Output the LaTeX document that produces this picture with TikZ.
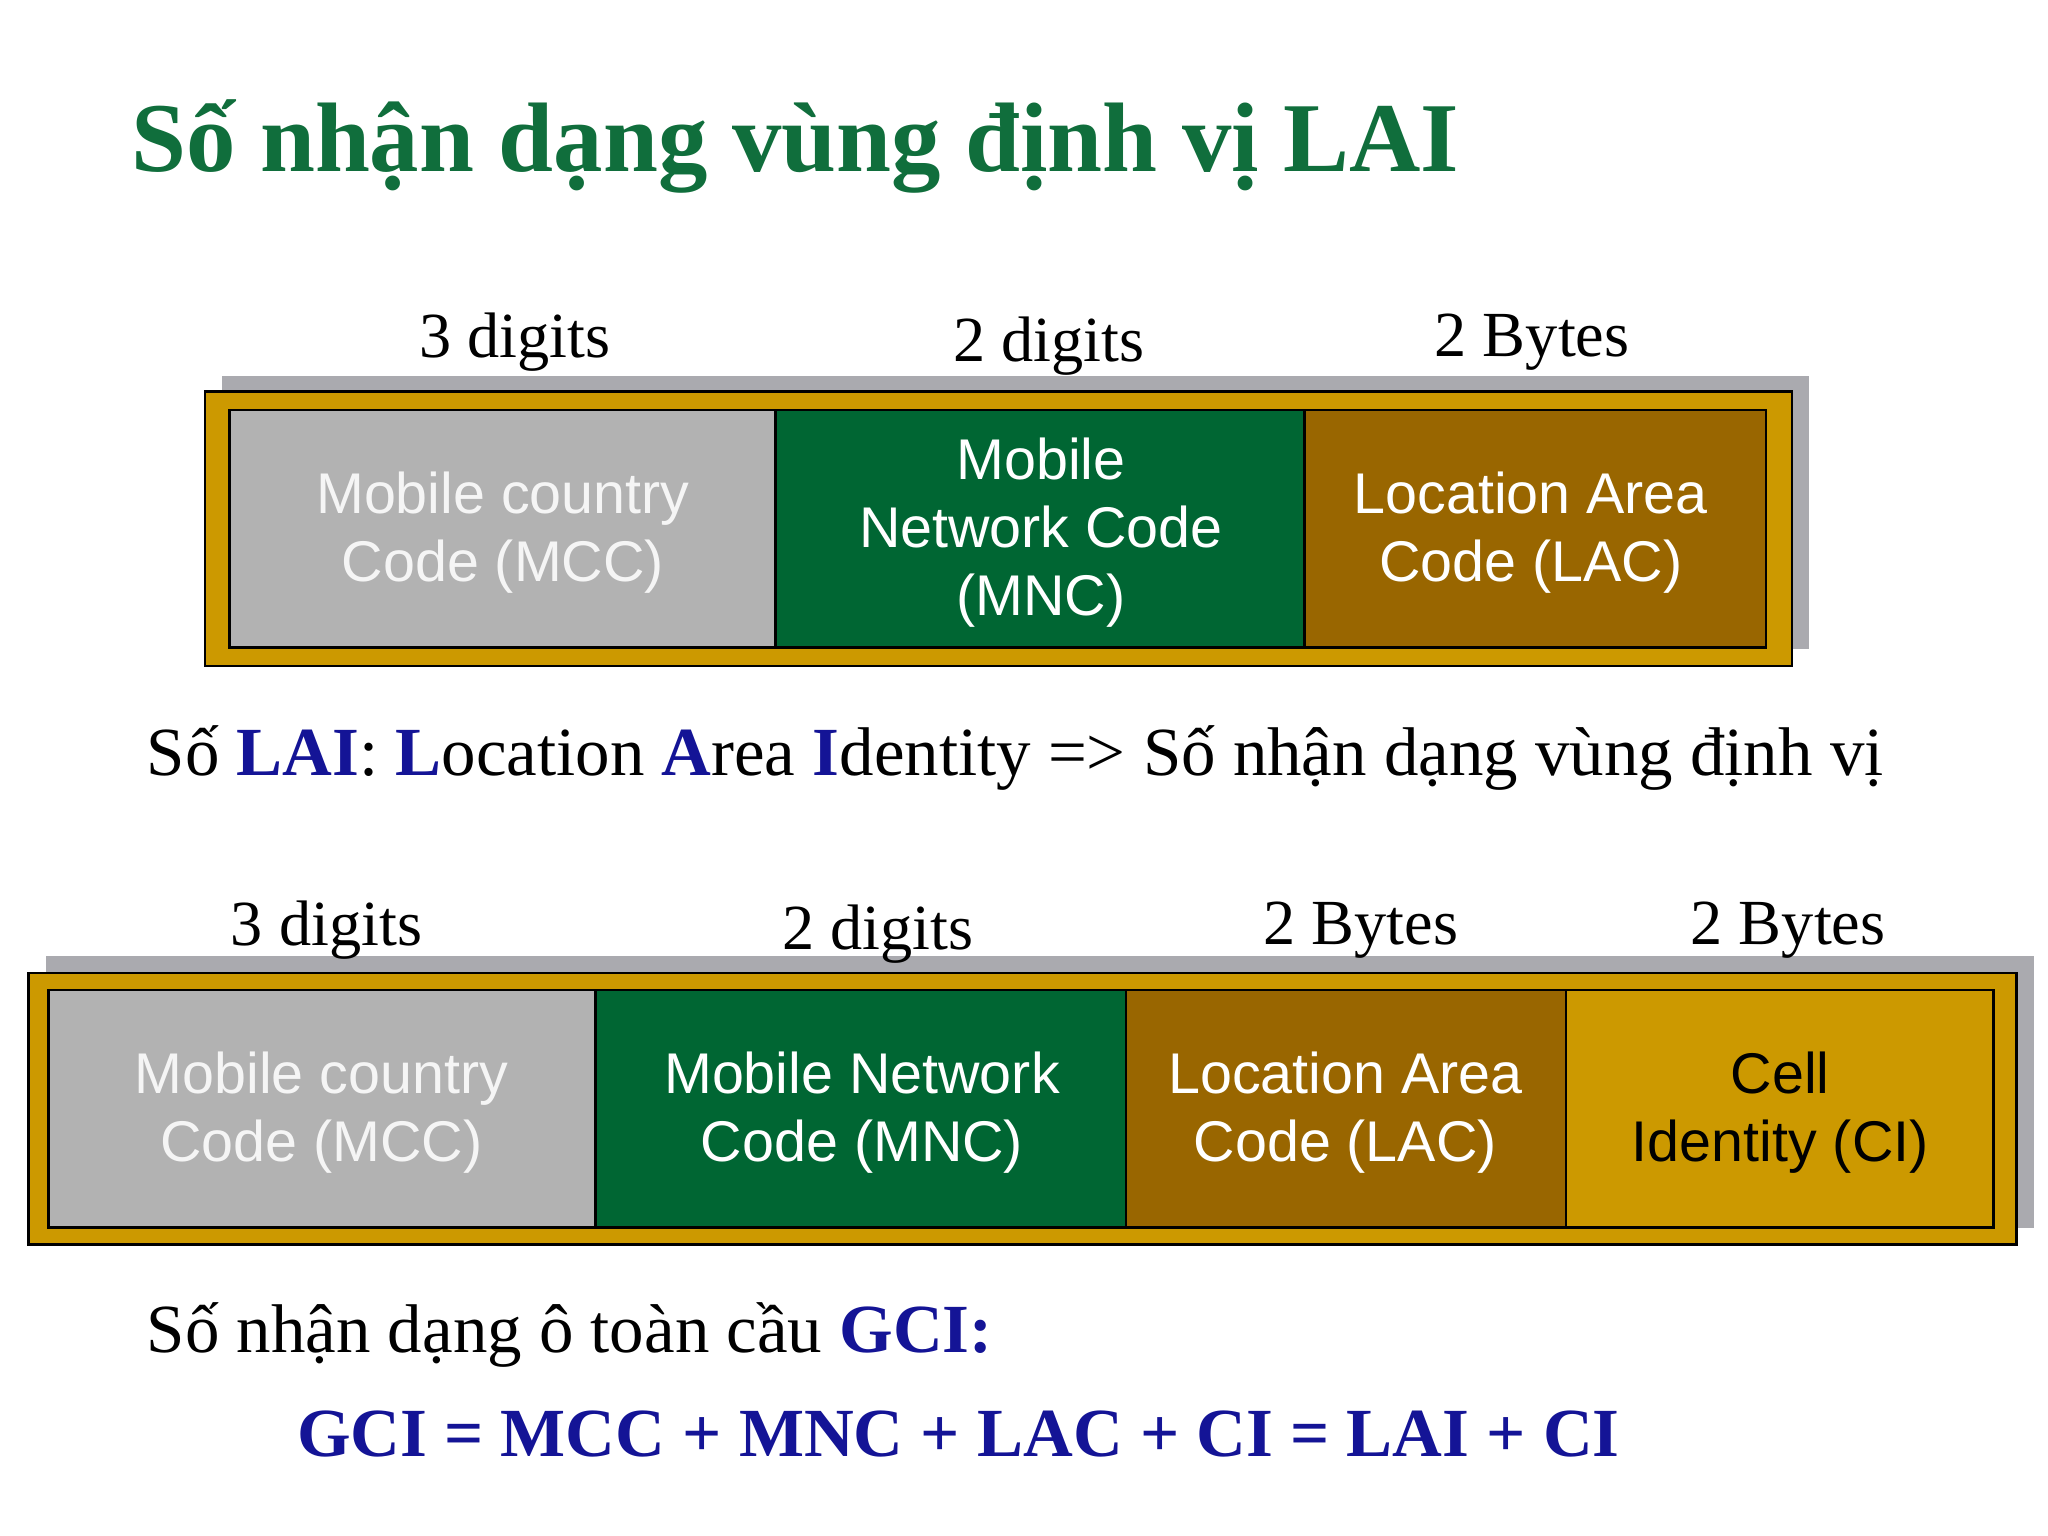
\documentclass[tikz,border=0pt]{standalone}
\usepackage{fontspec}
\setmainfont{Liberation Serif}
\setsansfont{Liberation Sans}
\definecolor{tgreen}{RGB}{16,110,60}
\definecolor{fgold}{RGB}{204,153,0}
\definecolor{bgray}{RGB}{178,178,178}
\definecolor{bgreen}{RGB}{0,102,51}
\definecolor{bbrown}{RGB}{153,102,0}
\definecolor{sgray}{RGB}{170,170,175}
\definecolor{dblue}{RGB}{20,20,150}
\tikzset{
 shadowbox/.style={fill=sgray},
 frame/.style={fill=fgold,draw=black,line width=0.6pt},
 cell/.style={draw=black,line width=0.6pt},
 celltext/.style={font=\sffamily\fontsize{12.5}{14.8}\selectfont,align=center},
 size/.style={font=\fontsize{14}{16}\selectfont},
 body/.style={font=\fontsize{15}{18}\selectfont,anchor=west}
}
\begin{document}
\begin{tikzpicture}[x=0.01cm,y=-0.01cm]
\useasboundingbox[fill=white] (0,0) rectangle (1568,1176);
\node[font=\bfseries\fontsize{21.5}{24}\selectfont,text=tgreen,anchor=west] (title) at (88,112) {Số nhận dạng vùng định vị LAI};
% top diagram
\fill[shadowbox] (170,288) rectangle (1385,497);
\draw[frame] (157,300) rectangle (1372,510);
\draw[cell,fill=bgray] (176,314) rectangle (594,496);
\draw[cell,fill=bgreen] (594,314) rectangle (999,496);
\draw[cell,fill=bbrown] (999,314) rectangle (1352,496);
\node[celltext,text=white!92!gray] (t1) at (385,408) {Mobile country\\Code (MCC)};
\node[celltext,text=white] (t2) at (797,408) {Mobile\\Network Code\\(MNC)};
\node[celltext,text=white] (t3) at (1172,408) {Location Area\\Code (LAC)};
\node[size] (s1) at (394,262) {3 digits};
\node[size] (s2) at (803,265) {2 digits};
\node[size] (s3) at (1173,262) {2 Bytes};
\node[body] (lai) at (100,580) {Số \textcolor{dblue}{\textbf{LAI}}: \textcolor{dblue}{\textbf{L}}ocation \textcolor{dblue}{\textbf{A}}rea \textcolor{dblue}{\textbf{I}}dentity => Số nhận dạng vùng định vị};
% bottom diagram
\fill[shadowbox] (35,732) rectangle (1557,940);
\draw[frame] (22,745) rectangle (1544,953);
\draw[cell,fill=bgray] (37,758) rectangle (456,940);
\draw[cell,fill=bgreen] (456,758) rectangle (862,940);
\draw[cell,fill=bbrown] (862,758) rectangle (1199,940);
\draw[cell,fill=fgold] (1199,758) rectangle (1526,940);
\node[celltext,text=white!92!gray] (b1) at (246,852) {Mobile country\\Code (MCC)};
\node[celltext,text=white] (b2) at (660,852) {Mobile Network\\Code (MNC)};
\node[celltext,text=white] (b3) at (1030,852) {Location Area\\Code (LAC)};
\node[celltext,text=black] (b4) at (1363,852) {Cell\\Identity (CI)};
\node[size] (u1) at (250,712) {3 digits};
\node[size] (u2) at (672,715) {2 digits};
\node[size] (u3) at (1042,712) {2 Bytes};
\node[size] (u4) at (1369,712) {2 Bytes};
\node[body] (gci) at (100,1022) {Số nhận dạng ô toàn cầu \textcolor{dblue}{\textbf{GCI:}}};
\node[body,text=dblue,font=\bfseries\fontsize{15}{18}\selectfont] (eq) at (215,1098) {GCI = MCC + MNC + LAC + CI = LAI + CI};
\end{tikzpicture}
\end{document}
